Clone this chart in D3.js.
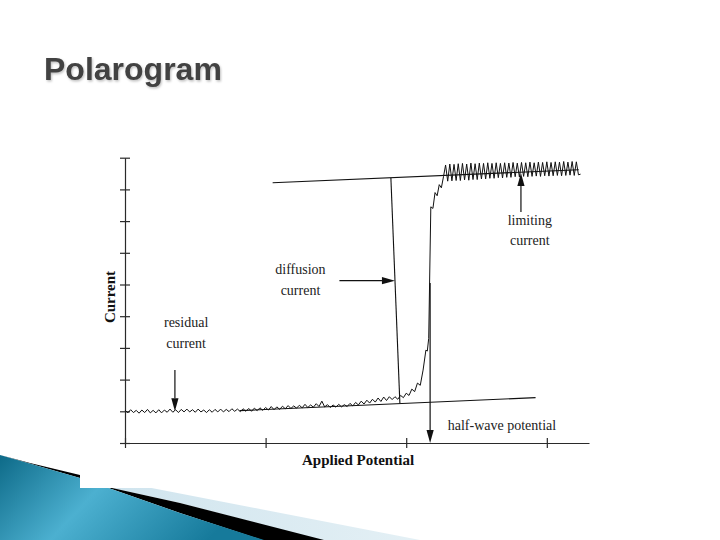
<!DOCTYPE html>
<html>
<head>
<meta charset="utf-8">
<script src="https://cdn.jsdelivr.net/npm/d3@7/dist/d3.min.js"></script>
<style>
  html, body { margin: 0; padding: 0; background: #fff; }
  svg { display: block; }
</style>
</head>
<body>
<svg id="chart" width="720" height="540"></svg>
<script>
// ---------- DATA ----------
const title = "Polarogram";
const xLabel = "Applied Potential";
const yLabel = "Current";
const xTicks = [0, 100, 200, 300];
const yTicks = [0, 10, 20, 30, 40, 50, 60, 70, 80, 90];

// residual-current region: [potential, current]
const residual = [
  [0,10.4],[2,9.5],[4,10.5],[6,9.6],[8,10.3],[10,9.4],[12,10.4],[14,9.6],[16,10.6],[18,9.5],
  [20,10.3],[22,9.5],[24,10.5],[26,9.5],[28,10.4],[30,9.7],[32,10.7],[34,9.7],[36,10.5],[38,9.6],
  [40,10.6],[42,9.8],[44,10.7],[46,9.8],[48,10.5],[50,9.7],[52,10.7],[54,9.8],[56,10.4],[58,9.6],
  [60,10.5],[62,9.7],[64,10.6],[66,9.8],[68,10.7],[70,9.8],[72,10.6],[74,9.9],[76,10.8],[78,10.0],
  [80,10.7],[82,9.9],[84,10.8],[86,10.0],[88,10.9],[90,10.0],[92,11.0],[94,10.2],[96,11.1],[98,10.3],
  [100,11.2],[102,10.4],[104,11.5],[106,10.5],[108,11.4],[110,10.6],[112,11.6],[114,10.8],[116,11.8],[118,10.9],
  [120,11.7],[122,11.0],[124,11.9],[126,11.1],[128,12.2],[130,11.2],[132,12.0],[134,11.3],[136,12.4],[138,11.5],
  [140,13.2],[142,11.4],[144,12.1],[146,11.2],[148,12.0],[150,11.3],[152,12.2],[154,11.4],[156,12.1],[158,11.5],
  [160,12.5],[162,11.7],[164,12.8],[166,12.0],[168,13.2],[170,12.3],[172,13.5],[174,12.6],[176,13.8],[178,12.9],
  [180,14.2],[182,13.1],[184,14.5],[186,13.4],[188,14.6],[190,13.7]
];
// rising wave
const rise = [
  [192,14.6],[194,13.8],[196,15.0],[198,14.3],[200,15.7],[202,15.0],[204,17.0],[206,16.2],
  [208,18.9],[210,18.2],[212,23.0],[214,29.3],[215,29.0],[216,33.0],[217.5,74.5],[219,74.0],
  [220.5,79.0],[222,78.0],[223.5,81.5],[225,80.5],[226.5,84.0]
];
// limiting-current region (dropping-mercury oscillations)
const limiting = [
  [228,87.7],[229.5,82.6],[231,88.0],[232.5,82.7],[234,87.9],[235.5,82.8],[237,88.1],[238.5,82.8],
  [240,88.2],[241.5,83.0],[243,88.0],[244.5,82.9],[246,88.3],[247.5,83.1],[249,88.1],[250.5,83.1],
  [252,88.3],[253.5,83.3],[255,88.2],[256.5,83.3],[258,88.4],[259.5,83.5],[261,88.2],[262.5,83.5],
  [264,88.4],[265.5,83.7],[267,88.2],[268.5,83.6],[270,88.4],[271.5,83.8],[273,88.3],[274.5,83.8],
  [276,88.5],[277.5,84.0],[279,88.3],[280.5,83.9],[282,88.5],[283.5,84.1],[285,88.4],[286.5,84.0],
  [288,88.6],[289.5,84.1],[291,88.4],[292.5,84.2],[294,88.6],[295.5,84.1],[297,88.5],[298.5,84.3],
  [300,88.7],[301.5,84.2],[303,88.5],[304.5,84.3],[306,88.7],[307.5,84.4],[309,88.6],[310.5,84.3],
  [312,88.8],[313.5,84.4],[315,88.6],[316.5,84.5],[318,88.8],[319.5,84.4],[321,88.7],[322.5,84.6],
  [324,84.8]
];
// construction lines
const limitingLine = [[105,82.1],[322.7,86.2]];
const residualLine = [[81.6,10.2],[292,14.3]];
const diffusionLine = [[189.1,83.6],[195.5,12.5]];
// arrows: [from, to]
const arrows = [
  {from:[35.5,23.0], to:[35.5,10.0]},     // residual current
  {from:[152.5,51.2], to:[192.0,51.2]},   // diffusion current
  {from:[217.0,50.5], to:[217.0,0.0]},    // half-wave potential
  {from:[281.6,72.9], to:[281.6,85.2]}    // limiting current
];
const labels = [
  {lines:["residual","current"], at:[43.5,36.5]},
  {lines:["diffusion","current"], at:[124.8,53.3]},
  {lines:["limiting","current"], at:[287.9,68.8]},
  {lines:["half-wave potential"], at:[268.1,4.1]}
];

// ---------- DRAW ----------
const svg = d3.select("#chart");
const defs = svg.append("defs");

// decorative swoosh (bottom-left)
const g1 = defs.append("linearGradient").attr("id","teal").attr("x1","0").attr("x2","1").attr("y1","0").attr("y2","0.3");
g1.append("stop").attr("offset","0").attr("stop-color","#0d6a88");
g1.append("stop").attr("offset","0.45").attr("stop-color","#4cb0d0");
g1.append("stop").attr("offset","1").attr("stop-color","#167a9b");
const g2 = defs.append("linearGradient").attr("id","pale").attr("x1","0").attr("x2","1");
g2.append("stop").attr("offset","0").attr("stop-color","#cfe4ee");
g2.append("stop").attr("offset","1").attr("stop-color","#e4f0f5");

const deco = svg.append("g");
deco.append("path").attr("fill","url(#pale)")
  .attr("d","M100,478 L420,540 L320,540 L180,503 L103,486 Z");
deco.append("path").attr("fill","#000")
  .attr("d","M30,463 L80,475 L103,486 L180,503 L324,540 L262,540 L180,513 L80,478 L0,455 Z");
deco.append("path").attr("fill","url(#teal)")
  .attr("d","M0,455 L80,478 L180,513 L264,540 L0,540 Z");
deco.append("rect").attr("x",80).attr("y",0).attr("width",640).attr("height",488).attr("fill","#fff");

// title
const sh = defs.append("filter").attr("id","shadow").attr("x","-10%").attr("y","-10%").attr("width","130%").attr("height","140%");
sh.append("feDropShadow").attr("dx",1).attr("dy",1.5).attr("stdDeviation",1).attr("flood-color","#000").attr("flood-opacity",0.25);
svg.append("text").attr("x",44).attr("y",80)
  .attr("font-family","'Liberation Sans', Arial, sans-serif").attr("font-weight","bold")
  .attr("font-size",32).attr("fill","#434343").attr("filter","url(#shadow)").text(title);

// scales
const x = d3.scaleLinear().domain([0,330]).range([125,589]);
const y = d3.scaleLinear().domain([0,90]).range([443,157.7]);

// axes
const xAxis = svg.append("g").attr("transform","translate(0,443)")
  .call(d3.axisBottom(x).tickValues(xTicks).tickFormat("").tickSizeInner(5).tickSizeOuter(0));
xAxis.selectAll(".tick line").attr("y1",-5).attr("y2",5);
const yAxis = svg.append("g").attr("transform","translate(125,0)")
  .call(d3.axisLeft(y).tickValues(yTicks).tickFormat("").tickSizeInner(5).tickSizeOuter(0));
yAxis.selectAll(".tick line").attr("x1",5).attr("x2",-5);
svg.selectAll(".domain, .tick line").attr("stroke","#2a2a2a").attr("stroke-width",1.2);

const line = d3.line().x(d => x(d[0])).y(d => y(d[1]));

// construction lines
[limitingLine, residualLine, diffusionLine].forEach(l => {
  svg.append("path").attr("d", line(l)).attr("fill","none").attr("stroke","#111").attr("stroke-width",1.1);
});

// polarogram curve
svg.append("path").attr("d", line(residual.concat(rise, limiting)))
  .attr("fill","none").attr("stroke","#111").attr("stroke-width",1).attr("stroke-linejoin","miter");

// arrows
arrows.forEach(a => {
  const x0 = x(a.from[0]), y0 = y(a.from[1]), x1 = x(a.to[0]), y1 = y(a.to[1]);
  const ang = Math.atan2(y1 - y0, x1 - x0);
  const L = 13, W = 3.6;
  const bx = x1 - L*Math.cos(ang), by = y1 - L*Math.sin(ang);
  svg.append("line").attr("x1",x0).attr("y1",y0).attr("x2",bx).attr("y2",by)
    .attr("stroke","#111").attr("stroke-width",1.2);
  const px = -Math.sin(ang)*W, py = Math.cos(ang)*W;
  svg.append("path").attr("fill","#111")
    .attr("d",`M${x1},${y1} L${bx+px},${by+py} L${bx-px},${by-py} Z`);
});

// annotation labels
labels.forEach(lb => {
  const t = svg.append("text").attr("font-family","'Liberation Serif', 'Times New Roman', serif")
    .attr("font-size",14).attr("fill","#222").attr("text-anchor","middle");
  lb.lines.forEach((s,i) => {
    t.append("tspan").attr("x", x(lb.at[0])).attr("y", y(lb.at[1]) + i*20.5).text(s);
  });
});

// axis titles
svg.append("text").attr("x",358).attr("y",465).attr("text-anchor","middle")
  .attr("font-family","'Liberation Serif', 'Times New Roman', serif").attr("font-weight","bold")
  .attr("font-size",15).attr("fill","#111").text(xLabel);
svg.append("text").attr("transform","translate(115,297) rotate(-90)").attr("text-anchor","middle")
  .attr("font-family","'Liberation Serif', 'Times New Roman', serif").attr("font-weight","bold")
  .attr("font-size",15).attr("fill","#111").text(yLabel);
</script>
</body>
</html>
